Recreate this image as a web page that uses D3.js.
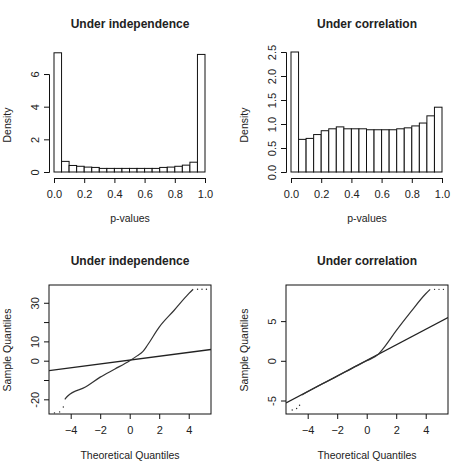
<!DOCTYPE html>
<html><head><meta charset="utf-8">
<script src="https://cdn.jsdelivr.net/npm/d3@7"></script>
<style>body{margin:0;background:#fff}text{font-family:"Liberation Sans",Arial,sans-serif;fill:#222}</style>
</head><body><svg id="c" width="474" height="474"></svg>
<script>
// histogram densities, 20 bins on [0,1]
const histIndep = [7.3,0.65,0.4,0.35,0.3,0.28,0.22,0.22,0.22,0.22,0.22,0.22,0.22,0.22,0.28,0.3,0.35,0.42,0.6,7.2];
const histCorr = [2.5,0.68,0.7,0.78,0.86,0.9,0.94,0.9,0.9,0.9,0.88,0.88,0.88,0.88,0.9,0.92,0.96,1.02,1.17,1.35];
const pTicks = [0,0.2,0.4,0.6,0.8,1.0];
// QQ curves [theoretical, sample]
const qqIndep = [[-4.4,-20],[-4.2,-18.3],[-3,-13.6],[-2,-8.5],[-1,-4.3],[0,0],[0.5,2.5],[0.9,4.8],[1.2,8],[2,17.4],[3,26],[4,34.7],[4.3,37]];
const qqIndepTail = [[-5.1,-27],[-4.75,-26.5],[-4.5,-24],[4.6,37],[4.9,37],[5.2,37]];
const qqCorr = [[-4.4,-4.3],[-3,-2.9],[-2,-1.95],[-1,-0.95],[0,0],[0.8,0.85],[1.1,1.5],[2,3.8],[3,6.2],[4,8.45],[4.3,9]];
const qqCorrTail = [[-5.05,-6.2],[-4.75,-6],[-4.55,-5.6],[4.6,9],[4.9,9],[5.2,9]];
const qqTicks = [-4,-2,0,2,4];

const svg = d3.select("#c");

function styleAxes(ax, ay) {
  ay.selectAll(".tick text").attr("x", 0).attr("dy", 0).attr("y", 0).attr("text-anchor", "middle")
    .attr("transform", "translate(-10,0) rotate(-90)");
  [ax, ay].forEach(a => {
    a.select(".domain").attr("stroke", "#111");
    a.selectAll("line").attr("stroke", "#111");
    a.selectAll("text").style("font-size", "11px").attr("fill", "#222");
  });
  ax.selectAll(".tick text").attr("dy", "1.1em");
}

function hist(ox, data, pxPerUnit, yTicks, fmt, title) {
  const g = svg.append("g").attr("transform", `translate(${ox},0)`);
  const x = d3.scaleLinear().domain([0, 1]).range([54, 205]);
  const top = d3.max(yTicks);
  const y = d3.scaleLinear().domain([0, top]).range([172, 172 - pxPerUnit * top]);
  const w = 1 / data.length;
  g.selectAll("rect").data(data).join("rect")
    .attr("x", (d, i) => x(i * w)).attr("width", x(w) - x(0))
    .attr("y", d => y(d)).attr("height", d => y(0) - y(d))
    .attr("fill", "#fff").attr("stroke", "#111").attr("stroke-width", 1);
  const ax = g.append("g").attr("transform", "translate(0,178)")
    .call(d3.axisBottom(x).tickValues(pTicks).tickFormat(d3.format(".1f")).tickSize(5));
  const ay = g.append("g").attr("transform", "translate(49,0)")
    .call(d3.axisLeft(y).tickValues(yTicks).tickFormat(fmt).tickSize(5));
  styleAxes(ax, ay);
  g.append("text").attr("x", 130).attr("y", 28).attr("text-anchor", "middle")
    .style("font-weight", "bold").style("font-size", "12px").text(title);
  g.append("text").attr("x", 130).attr("y", 222).attr("text-anchor", "middle").style("font-size", "10.5px").text("p-values");
  g.append("text").attr("transform", "translate(11,125) rotate(-90)").attr("text-anchor", "middle").style("font-size", "10.5px").text("Density");
}

function qq(ox, curve, tail, yDom, yTicks, yLab, slope, icpt, title) {
  const g = svg.append("g").attr("transform", `translate(${ox},0)`);
  const x = d3.scaleLinear().domain([-5.47, 5.51]).range([49, 211]);
  const y = d3.scaleLinear().domain(yDom).range([414, 285]);
  g.append("rect").attr("x", 49).attr("y", 285).attr("width", 162).attr("height", 129)
    .attr("fill", "none").attr("stroke", "#111");
  const clip = "clip" + ox;
  g.append("clipPath").attr("id", clip).append("rect").attr("x", 49).attr("y", 285).attr("width", 162).attr("height", 129);
  g.append("line").attr("clip-path", `url(#${clip})`)
    .attr("x1", x(-5.47)).attr("y1", y(icpt + slope * -5.47))
    .attr("x2", x(5.51)).attr("y2", y(icpt + slope * 5.51))
    .attr("stroke", "#222").attr("stroke-width", 1.3);
  g.append("path").datum(curve).attr("d", d3.line().x(d => x(d[0])).y(d => y(d[1])).curve(d3.curveMonotoneX))
    .attr("fill", "none").attr("stroke", "#333").attr("stroke-width", 1.2);
  g.selectAll("circle").data(tail).join("circle").attr("cx", d => x(d[0])).attr("cy", d => y(d[1]))
    .attr("r", 0.7).attr("fill", "#222");
  const ax = g.append("g").attr("transform", "translate(0,414)")
    .call(d3.axisBottom(x).tickValues(qqTicks).tickSize(5));
  const ay = g.append("g").attr("transform", "translate(49,0)")
    .call(d3.axisLeft(y).tickValues(yTicks).tickFormat(d => yLab.includes(d) ? d : "").tickSize(5));
  ax.select(".domain").remove(); ay.select(".domain").remove();
  styleAxes(ax, ay);
  g.append("text").attr("x", 130).attr("y", 265).attr("text-anchor", "middle")
    .style("font-weight", "bold").style("font-size", "12px").text(title);
  g.append("text").attr("x", 130).attr("y", 459).attr("text-anchor", "middle").style("font-size", "10.5px").text("Theoretical Quantiles");
  g.append("text").attr("transform", "translate(11,350) rotate(-90)").attr("text-anchor", "middle").style("font-size", "10.5px").text("Sample Quantiles");
}

hist(0, histIndep, 16.33, [0, 2, 4, 6], d => d, "Under independence");
hist(237, histCorr, 48, [0, 0.5, 1, 1.5, 2, 2.5], d => d.toFixed(1), "Under correlation");
qq(0, qqIndep, qqIndepTail, [-27.6, 39.2], [-20, -10, 0, 10, 20, 30], [-20, 0, 10, 30], 1.0, 0.3, "Under independence");
qq(237, qqCorr, qqCorrTail, [-6.7, 9.55], [-5, 0, 5], [-5, 0, 5], 0.98, 0.05, "Under correlation");
</script></body></html>
